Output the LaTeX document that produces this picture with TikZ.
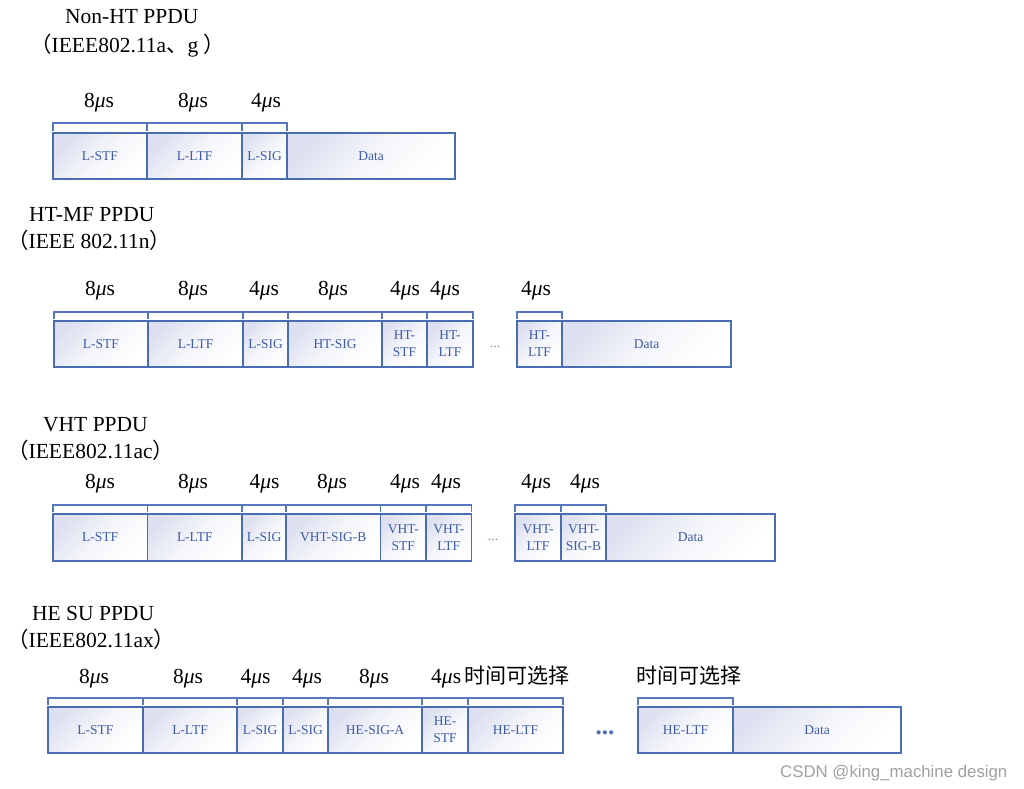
\documentclass[tikz,border=0pt]{standalone}
\usepackage{fontspec}
\setmainfont{Liberation Serif}
\newfontfamily\cjk{Noto Sans CJK SC}
\newfontfamily\wmfont{Liberation Sans}
\definecolor{bord}{HTML}{4A6CB3}
\definecolor{txtb}{HTML}{3E5CA8}
\definecolor{lav}{HTML}{DDE0F0}
\definecolor{brkc}{HTML}{5676BD}
\definecolor{dotc}{HTML}{8292BC}
\definecolor{wmc}{HTML}{A0A0A0}
\tikzset{
  seg/.style={draw=bord, line width=1.2pt, top color=lav, bottom color=white, middle color=lav!30!white, shading angle=45,
    inner sep=0pt, outer sep=0pt, text=txtb, align=center,
    font=\fontsize{13.5}{17}\selectfont},
  brk/.style={draw=brkc, line width=1.1pt},
  lab/.style={anchor=base, inner sep=0pt, font=\fontsize{21.5}{24}\selectfont},
  ttl/.style={anchor=base west, inner sep=0pt, font=\fontsize{21.5}{24}\selectfont},
  sdots/.style={inner sep=0pt, text=dotc, font=\fontsize{14}{16}\selectfont},
}
\newcommand\pbox[6]{%
  \node[seg, minimum width={(#3-#2)*1pt}, minimum height={(#5-#4)*1pt}] (#1) at ({(#2+#3)/2},{(#4+#5)/2}) {#6};}
\newcommand\us[4]{\node[lab] (#1) at (#2,#3) {#4{\itshape μ}s};}
\begin{document}
\begin{tikzpicture}[x=1pt,y=-1pt]
\useasboundingbox[fill=white] (0,0) rectangle (1024,788);

% ---------- Row 1: Non-HT ----------
\node[ttl] (t1) at (65,23) {Non-HT PPDU};
\node[ttl] (t1b) at (30,52) {{\cjk （}IEEE802.11a{\cjk 、}g {\cjk ）}};
\us{l1a}{99}{107}{8}
\us{l1b}{193}{107}{8}
\us{l1c}{266}{107}{4}
\draw[brk] (53,131) -- (53,123) -- (287,123) -- (287,131);
\foreach \x in {147,242} \draw[brk] (\x,123) -- (\x,131);
\pbox{r1a}{53}{147}{133}{179}{L-STF}
\pbox{r1b}{147}{242}{133}{179}{L-LTF}
\pbox{r1c}{242}{287}{133}{179}{L-SIG}
\pbox{r1d}{287}{455}{133}{179}{Data}

% ---------- Row 2: HT-MF ----------
\node[ttl] (t2) at (29,221) {HT-MF PPDU};
\node[ttl] (t2b) at (7,248) {{\cjk （}IEEE 802.11n{\cjk ）}};
\us{l2a}{100}{295}{8}
\us{l2b}{193}{295}{8}
\us{l2c}{264}{295}{4}
\us{l2d}{333}{295}{8}
\us{l2e}{405}{295}{4}
\us{l2f}{445}{295}{4}
\us{l2g}{536}{295}{4}
\draw[brk] (54,319) -- (54,312) -- (473,312) -- (473,319);
\foreach \x in {148,243,288,382,427} \draw[brk] (\x,312) -- (\x,319);
\draw[brk] (517,319) -- (517,312) -- (562,312) -- (562,319);
\pbox{r2a}{54}{148}{321}{367}{L-STF}
\pbox{r2b}{148}{243}{321}{367}{L-LTF}
\pbox{r2c}{243}{288}{321}{367}{L-SIG}
\pbox{r2d}{288}{382}{321}{367}{HT-SIG}
\pbox{r2e}{382}{427}{321}{367}{HT-\\STF}
\pbox{r2f}{427}{473}{321}{367}{HT-\\LTF}
\node[sdots] (d2) at (495,347) {...};
\pbox{r2g}{517}{562}{321}{367}{HT-\\LTF}
\pbox{r2h}{562}{731}{321}{367}{Data}

% ---------- Row 3: VHT ----------
\node[ttl] (t3) at (43,431) {VHT PPDU};
\node[ttl] (t3b) at (7,458) {{\cjk （}IEEE802.11ac{\cjk ）}};
\us{l3a}{100}{488}{8}
\us{l3b}{193}{488}{8}
\us{l3c}{264.5}{488}{4}
\us{l3d}{332}{488}{8}
\us{l3e}{405}{488}{4}
\us{l3f}{446}{488}{4}
\us{l3g}{536}{488}{4}
\us{l3h}{585}{488}{4}
\draw[brk] (53,512) -- (53,505) -- (471.6,505) -- (471.6,512);
\foreach \x in {147.5,242,286,380.5,426} \draw[brk] (\x,505) -- (\x,512);
\draw[brk] (515,512) -- (515,505) -- (606,505) -- (606,512);
\draw[brk] (561,505) -- (561,512);
\pbox{r3a}{53}{147.5}{514}{561}{L-STF}
\pbox{r3b}{147.5}{242}{514}{561}{L-LTF}
\pbox{r3c}{242}{286}{514}{561}{L-SIG}
\pbox{r3d}{286}{380.5}{514}{561}{VHT-SIG-B}
\pbox{r3e}{380.5}{426}{514}{561}{VHT-\\STF}
\pbox{r3f}{426}{471.6}{514}{561}{VHT-\\LTF}
\node[sdots] (d3) at (493,540) {...};
\pbox{r3g}{515}{561}{514}{561}{VHT-\\LTF}
\pbox{r3h}{561}{606}{514}{561}{VHT-\\SIG-B}
\pbox{r3i}{606}{775}{514}{561}{Data}

% ---------- Row 4: HE SU ----------
\node[ttl] (t4) at (32,620) {HE SU PPDU};
\node[ttl] (t4b) at (7,647) {{\cjk （}IEEE802.11ax{\cjk ）}};
\us{l4a}{94}{683}{8}
\us{l4b}{188}{683}{8}
\us{l4c}{255.5}{683}{4}
\us{l4d}{307}{683}{4}
\us{l4e}{374}{683}{8}
\node[ttl] (l4f) at (431,683) {4{\itshape μ}s\,{\cjk\fontsize{21}{24}\selectfont 时间可选择}};
\node[ttl] (l4g) at (636,683) {{\cjk\fontsize{21}{24}\selectfont 时间可选择}};
\draw[brk] (48,705) -- (48,698) -- (563,698) -- (563,705);
\foreach \x in {143,237,283,328,422,468} \draw[brk] (\x,698) -- (\x,705);
\draw[brk] (638,705) -- (638,698) -- (733,698) -- (733,705);
\pbox{r4a}{48}{143}{707}{753}{L-STF}
\pbox{r4b}{143}{237}{707}{753}{L-LTF}
\pbox{r4c}{237}{283}{707}{753}{L-SIG}
\pbox{r4d}{283}{328}{707}{753}{L-SIG}
\pbox{r4e}{328}{422}{707}{753}{HE-SIG-A}
\pbox{r4f}{422}{468}{707}{753}{HE-\\STF}
\pbox{r4g}{468}{563}{707}{753}{HE-LTF}
\node[inner sep=0pt, text=bord, font=\bfseries\fontsize{25}{28}\selectfont] (d4) at (605,733) {...};
\pbox{r4h}{638}{733}{707}{753}{HE-LTF}
\pbox{r4i}{733}{901}{707}{753}{Data}

% ---------- watermark ----------
\node[anchor=base west, inner sep=0pt, text=wmc, font=\wmfont\fontsize{16.8}{19}\selectfont] (wm) at (780,777) {CSDN @king\_machine design};
\end{tikzpicture}
\end{document}
